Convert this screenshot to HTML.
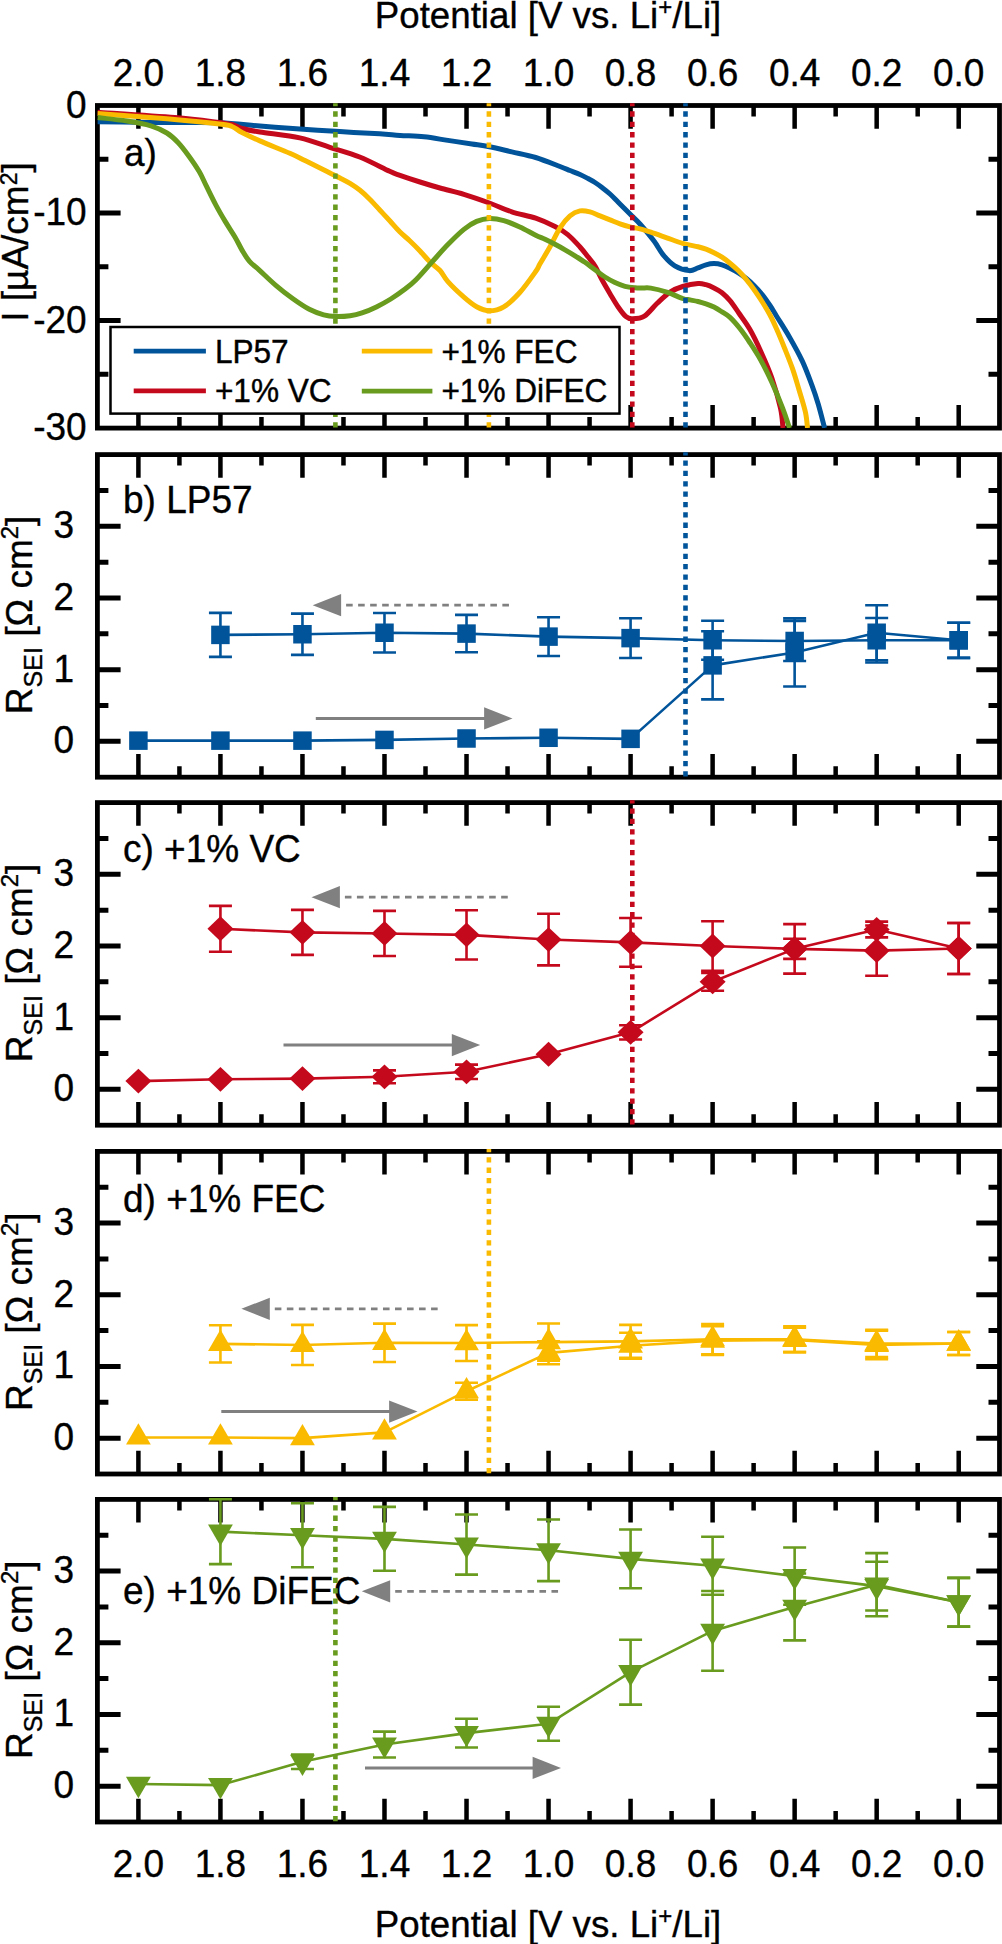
<!DOCTYPE html>
<html><head><meta charset="utf-8"><title>Potential vs RSEI</title>
<style>html,body{margin:0;padding:0;background:#fff;}svg{display:block;}text{font-family:"Liberation Sans", Arial, Helvetica, sans-serif;fill:#000;stroke:#000;stroke-width:0.35px;}</style></head><body>
<svg width="1002" height="1944" viewBox="0 0 1002 1944">
<rect width="1002" height="1944" fill="#fff"/>
<defs>
<clipPath id="cp0"><rect x="97.4" y="99.5" width="902.1" height="328.6"/></clipPath>
<clipPath id="cp1"><rect x="97.4" y="448.6" width="902.1" height="328.6"/></clipPath>
<clipPath id="cp2"><rect x="97.4" y="796.6" width="902.1" height="328.6"/></clipPath>
<clipPath id="cp3"><rect x="97.4" y="1145.4" width="902.1" height="328.6"/></clipPath>
<clipPath id="cp4"><rect x="97.4" y="1493.4" width="902.1" height="328.6"/></clipPath>
</defs>
<rect x="97.4" y="105.5" width="902.1" height="322.6" fill="none" stroke="#000" stroke-width="4.8"/>
<path d="M958.7 105.5v23.2 M958.7 428.1v-23.2 M917.69 105.5v11 M917.69 428.1v-11 M876.67 105.5v23.2 M876.67 428.1v-23.2 M835.66 105.5v11 M835.66 428.1v-11 M794.64 105.5v23.2 M794.64 428.1v-23.2 M753.62 105.5v11 M753.62 428.1v-11 M712.61 105.5v23.2 M712.61 428.1v-23.2 M671.6 105.5v11 M671.6 428.1v-11 M630.58 105.5v23.2 M630.58 428.1v-23.2 M589.57 105.5v11 M589.57 428.1v-11 M548.55 105.5v23.2 M548.55 428.1v-23.2 M507.54 105.5v11 M507.54 428.1v-11 M466.52 105.5v23.2 M466.52 428.1v-23.2 M425.51 105.5v11 M425.51 428.1v-11 M384.49 105.5v23.2 M384.49 428.1v-23.2 M343.48 105.5v11 M343.48 428.1v-11 M302.46 105.5v23.2 M302.46 428.1v-23.2 M261.45 105.5v11 M261.45 428.1v-11 M220.43 105.5v23.2 M220.43 428.1v-23.2 M179.42 105.5v11 M179.42 428.1v-11 M138.4 105.5v23.2 M138.4 428.1v-23.2" stroke="#000" stroke-width="4.5" fill="none"/><path d="M97.4 159.27h11 M999.5 159.27h-11 M97.4 213.03h23.2 M999.5 213.03h-23.2 M97.4 266.8h11 M999.5 266.8h-11 M97.4 320.57h23.2 M999.5 320.57h-23.2 M97.4 374.33h11 M999.5 374.33h-11" stroke="#000" stroke-width="5.0" fill="none"/>
<rect x="97.4" y="454.6" width="902.1" height="322.6" fill="none" stroke="#000" stroke-width="4.8"/>
<path d="M958.7 454.6v23.2 M958.7 777.2v-23.2 M917.69 454.6v11 M917.69 777.2v-11 M876.67 454.6v23.2 M876.67 777.2v-23.2 M835.66 454.6v11 M835.66 777.2v-11 M794.64 454.6v23.2 M794.64 777.2v-23.2 M753.62 454.6v11 M753.62 777.2v-11 M712.61 454.6v23.2 M712.61 777.2v-23.2 M671.6 454.6v11 M671.6 777.2v-11 M630.58 454.6v23.2 M630.58 777.2v-23.2 M589.57 454.6v11 M589.57 777.2v-11 M548.55 454.6v23.2 M548.55 777.2v-23.2 M507.54 454.6v11 M507.54 777.2v-11 M466.52 454.6v23.2 M466.52 777.2v-23.2 M425.51 454.6v11 M425.51 777.2v-11 M384.49 454.6v23.2 M384.49 777.2v-23.2 M343.48 454.6v11 M343.48 777.2v-11 M302.46 454.6v23.2 M302.46 777.2v-23.2 M261.45 454.6v11 M261.45 777.2v-11 M220.43 454.6v23.2 M220.43 777.2v-23.2 M179.42 454.6v11 M179.42 777.2v-11 M138.4 454.6v23.2 M138.4 777.2v-23.2" stroke="#000" stroke-width="4.5" fill="none"/><path d="M97.4 741.36h23.2 M999.5 741.36h-23.2 M97.4 705.51h11 M999.5 705.51h-11 M97.4 669.67h23.2 M999.5 669.67h-23.2 M97.4 633.82h11 M999.5 633.82h-11 M97.4 597.98h23.2 M999.5 597.98h-23.2 M97.4 562.13h11 M999.5 562.13h-11 M97.4 526.29h23.2 M999.5 526.29h-23.2 M97.4 490.44h11 M999.5 490.44h-11" stroke="#000" stroke-width="5.0" fill="none"/>
<rect x="97.4" y="802.6" width="902.1" height="322.6" fill="none" stroke="#000" stroke-width="4.8"/>
<path d="M958.7 802.6v23.2 M958.7 1125.2v-23.2 M917.69 802.6v11 M917.69 1125.2v-11 M876.67 802.6v23.2 M876.67 1125.2v-23.2 M835.66 802.6v11 M835.66 1125.2v-11 M794.64 802.6v23.2 M794.64 1125.2v-23.2 M753.62 802.6v11 M753.62 1125.2v-11 M712.61 802.6v23.2 M712.61 1125.2v-23.2 M671.6 802.6v11 M671.6 1125.2v-11 M630.58 802.6v23.2 M630.58 1125.2v-23.2 M589.57 802.6v11 M589.57 1125.2v-11 M548.55 802.6v23.2 M548.55 1125.2v-23.2 M507.54 802.6v11 M507.54 1125.2v-11 M466.52 802.6v23.2 M466.52 1125.2v-23.2 M425.51 802.6v11 M425.51 1125.2v-11 M384.49 802.6v23.2 M384.49 1125.2v-23.2 M343.48 802.6v11 M343.48 1125.2v-11 M302.46 802.6v23.2 M302.46 1125.2v-23.2 M261.45 802.6v11 M261.45 1125.2v-11 M220.43 802.6v23.2 M220.43 1125.2v-23.2 M179.42 802.6v11 M179.42 1125.2v-11 M138.4 802.6v23.2 M138.4 1125.2v-23.2" stroke="#000" stroke-width="4.5" fill="none"/><path d="M97.4 1089.36h23.2 M999.5 1089.36h-23.2 M97.4 1053.51h11 M999.5 1053.51h-11 M97.4 1017.67h23.2 M999.5 1017.67h-23.2 M97.4 981.82h11 M999.5 981.82h-11 M97.4 945.98h23.2 M999.5 945.98h-23.2 M97.4 910.13h11 M999.5 910.13h-11 M97.4 874.29h23.2 M999.5 874.29h-23.2 M97.4 838.44h11 M999.5 838.44h-11" stroke="#000" stroke-width="5.0" fill="none"/>
<rect x="97.4" y="1151.4" width="902.1" height="322.6" fill="none" stroke="#000" stroke-width="4.8"/>
<path d="M958.7 1151.4v23.2 M958.7 1474v-23.2 M917.69 1151.4v11 M917.69 1474v-11 M876.67 1151.4v23.2 M876.67 1474v-23.2 M835.66 1151.4v11 M835.66 1474v-11 M794.64 1151.4v23.2 M794.64 1474v-23.2 M753.62 1151.4v11 M753.62 1474v-11 M712.61 1151.4v23.2 M712.61 1474v-23.2 M671.6 1151.4v11 M671.6 1474v-11 M630.58 1151.4v23.2 M630.58 1474v-23.2 M589.57 1151.4v11 M589.57 1474v-11 M548.55 1151.4v23.2 M548.55 1474v-23.2 M507.54 1151.4v11 M507.54 1474v-11 M466.52 1151.4v23.2 M466.52 1474v-23.2 M425.51 1151.4v11 M425.51 1474v-11 M384.49 1151.4v23.2 M384.49 1474v-23.2 M343.48 1151.4v11 M343.48 1474v-11 M302.46 1151.4v23.2 M302.46 1474v-23.2 M261.45 1151.4v11 M261.45 1474v-11 M220.43 1151.4v23.2 M220.43 1474v-23.2 M179.42 1151.4v11 M179.42 1474v-11 M138.4 1151.4v23.2 M138.4 1474v-23.2" stroke="#000" stroke-width="4.5" fill="none"/><path d="M97.4 1438.16h23.2 M999.5 1438.16h-23.2 M97.4 1402.31h11 M999.5 1402.31h-11 M97.4 1366.47h23.2 M999.5 1366.47h-23.2 M97.4 1330.62h11 M999.5 1330.62h-11 M97.4 1294.78h23.2 M999.5 1294.78h-23.2 M97.4 1258.93h11 M999.5 1258.93h-11 M97.4 1223.09h23.2 M999.5 1223.09h-23.2 M97.4 1187.24h11 M999.5 1187.24h-11" stroke="#000" stroke-width="5.0" fill="none"/>
<rect x="97.4" y="1499.4" width="902.1" height="322.6" fill="none" stroke="#000" stroke-width="4.8"/>
<path d="M958.7 1499.4v23.2 M958.7 1822v-23.2 M917.69 1499.4v11 M917.69 1822v-11 M876.67 1499.4v23.2 M876.67 1822v-23.2 M835.66 1499.4v11 M835.66 1822v-11 M794.64 1499.4v23.2 M794.64 1822v-23.2 M753.62 1499.4v11 M753.62 1822v-11 M712.61 1499.4v23.2 M712.61 1822v-23.2 M671.6 1499.4v11 M671.6 1822v-11 M630.58 1499.4v23.2 M630.58 1822v-23.2 M589.57 1499.4v11 M589.57 1822v-11 M548.55 1499.4v23.2 M548.55 1822v-23.2 M507.54 1499.4v11 M507.54 1822v-11 M466.52 1499.4v23.2 M466.52 1822v-23.2 M425.51 1499.4v11 M425.51 1822v-11 M384.49 1499.4v23.2 M384.49 1822v-23.2 M343.48 1499.4v11 M343.48 1822v-11 M302.46 1499.4v23.2 M302.46 1822v-23.2 M261.45 1499.4v11 M261.45 1822v-11 M220.43 1499.4v23.2 M220.43 1822v-23.2 M179.42 1499.4v11 M179.42 1822v-11 M138.4 1499.4v23.2 M138.4 1822v-23.2" stroke="#000" stroke-width="4.5" fill="none"/><path d="M97.4 1786.16h23.2 M999.5 1786.16h-23.2 M97.4 1750.31h11 M999.5 1750.31h-11 M97.4 1714.47h23.2 M999.5 1714.47h-23.2 M97.4 1678.62h11 M999.5 1678.62h-11 M97.4 1642.78h23.2 M999.5 1642.78h-23.2 M97.4 1606.93h11 M999.5 1606.93h-11 M97.4 1571.09h23.2 M999.5 1571.09h-23.2 M97.4 1535.24h11 M999.5 1535.24h-11" stroke="#000" stroke-width="5.0" fill="none"/>
<g clip-path="url(#cp0)">
<path d="M97.4 121.8 C104.17 121.88 125.1 122.17 138 122.3 C150.9 122.43 161.13 122.52 174.8 122.6 C188.47 122.68 205.82 122.23 220 122.8 C234.18 123.37 246.6 124.97 259.9 126 C273.2 127.03 286.48 128.07 299.8 129 C313.12 129.93 326.48 130.8 339.8 131.6 C353.12 132.4 369.67 133.17 379.7 133.8 C389.73 134.43 392.62 134.9 400 135.4 C407.38 135.9 416.02 135.97 424 136.8 C431.98 137.63 439.92 139.2 447.9 140.4 C455.88 141.6 464.98 142.93 471.9 144 C478.82 145.07 482.75 145.48 489.4 146.8 C496.05 148.12 504.08 150.12 511.8 151.9 C519.52 153.68 527.67 155.07 535.7 157.5 C543.73 159.93 554.28 164.33 560 166.5 C565.72 168.67 566.67 169.17 570 170.5 C573.33 171.83 577 173.17 580 174.5 C583 175.83 585.5 177.17 588 178.5 C590.5 179.83 592.67 181 595 182.5 C597.33 184 599.5 185.58 602 187.5 C604.5 189.42 607.33 191.58 610 194 C612.67 196.42 615.33 199.33 618 202 C620.67 204.67 623.67 207.67 626 210 C628.33 212.33 629.67 213.67 632 216 C634.33 218.33 636.33 219.83 640 224 C643.67 228.17 650.07 235.77 654 241 C657.93 246.23 660.13 251.27 663.6 255.4 C667.07 259.53 670.55 263.27 674.8 265.8 C679.05 268.33 685.23 270.25 689.1 270.6 C692.97 270.95 695.18 268.87 698 267.9 C700.82 266.93 703.33 265.52 706 264.8 C708.67 264.08 711.33 263.6 714 263.6 C716.67 263.6 719.33 264.02 722 264.8 C724.67 265.58 727.33 266.98 730 268.3 C732.67 269.62 735.33 271.03 738 272.7 C740.67 274.37 743.33 276.17 746 278.3 C748.67 280.43 751.33 282.83 754 285.5 C756.67 288.17 759.33 290.97 762 294.3 C764.67 297.63 767.57 301.85 770 305.5 C772.43 309.15 773.37 310.95 776.6 316.2 C779.83 321.45 785.13 329.55 789.4 337 C793.67 344.45 798.47 352.92 802.2 360.9 C805.93 368.88 809.13 377.72 811.8 384.9 C814.47 392.08 816.07 396.82 818.2 404 C820.33 411.18 823.53 424 824.6 428" fill="none" stroke="#02549a" stroke-width="5" stroke-linejoin="round" stroke-linecap="butt"/>
<path d="M97.4 112.2 C110.3 113.1 154.45 115.87 174.8 117.6 C195.15 119.33 209.97 121.45 219.5 122.6 C229.03 123.75 228.25 123.52 232 124.5 C235.75 125.48 237.35 127.25 242 128.5 C246.65 129.75 250.27 130.43 259.9 132 C269.53 133.57 288.15 135.35 299.8 137.9 C311.45 140.45 319.82 144.12 329.8 147.3 C339.78 150.48 349.72 153 359.7 157 C369.68 161 382.98 168.25 389.7 171.3 C396.42 174.35 394.95 173.52 400 175.3 C405.05 177.08 413.33 179.88 420 182 C426.67 184.12 432.68 185.95 440 188 C447.32 190.05 455.67 191.8 463.9 194.3 C472.13 196.8 481.42 200.08 489.4 203 C497.38 205.92 504.08 209.27 511.8 211.8 C519.52 214.33 528.5 215.73 535.7 218.2 C542.9 220.67 549.65 223.87 555 226.6 C560.35 229.33 563.63 231.2 567.8 234.6 C571.97 238 576.63 243.3 580 247 C583.37 250.7 585.5 253.63 588 256.8 C590.5 259.97 592.67 262.17 595 266 C597.33 269.83 599.5 275.18 602 279.8 C604.5 284.42 607.33 289.22 610 293.7 C612.67 298.18 615.33 302.87 618 306.7 C620.67 310.53 623.67 314.68 626 316.7 C628.33 318.72 628.93 318.9 632 318.8 C635.07 318.7 640.2 318.68 644.4 316.1 C648.6 313.52 652.93 307.3 657.2 303.3 C661.47 299.3 665.75 294.9 670 292.1 C674.25 289.3 678.03 287.93 682.7 286.5 C687.37 285.07 694.12 283.8 698 283.5 C701.88 283.2 703.33 283.97 706 284.7 C708.67 285.43 711.33 286.57 714 287.9 C716.67 289.23 719.33 290.57 722 292.7 C724.67 294.83 727.2 297.32 730 300.7 C732.8 304.08 735.5 308.23 738.8 313 C742.1 317.77 746.15 322.93 749.8 329.3 C753.45 335.67 757.05 343.15 760.7 351.2 C764.35 359.25 768.4 368.08 771.7 377.6 C775 387.12 778.62 399.9 780.5 408.3 C782.38 416.7 782.58 424.72 783 428" fill="none" stroke="#c5091d" stroke-width="5" stroke-linejoin="round" stroke-linecap="butt"/>
<path d="M97.4 113.4 C108.98 114.3 146.55 117.03 166.9 118.8 C187.25 120.57 208.65 122.72 219.5 124 C230.35 125.28 228.25 125.08 232 126.5 C235.75 127.92 237.35 130.1 242 132.5 C246.65 134.9 251.92 137.43 259.9 140.9 C267.88 144.37 282.38 150.02 289.9 153.3 C297.42 156.58 299.98 158.15 305 160.6 C310.02 163.05 315.53 165.77 320 168 C324.47 170.23 328.47 172.33 331.8 174 C335.13 175.67 336.97 176.43 340 178 C343.03 179.57 346.67 181.35 350 183.4 C353.33 185.45 356.67 187.63 360 190.3 C363.33 192.97 366.67 196.08 370 199.4 C373.33 202.72 376.67 206.6 380 210.2 C383.33 213.8 386.67 217.37 390 221 C393.33 224.63 396.67 228.67 400 232 C403.33 235.33 406.67 237.83 410 241 C413.33 244.17 416.67 247.5 420 251 C423.33 254.5 426.67 258.75 430 262 C433.33 265.25 437.02 267.22 440 270.5 C442.98 273.78 443.92 277.25 447.9 281.7 C451.88 286.15 459.12 293.02 463.9 297.2 C468.68 301.38 472.35 304.53 476.6 306.8 C480.85 309.07 484.87 310.8 489.4 310.8 C493.93 310.8 498.73 309.85 503.8 306.8 C508.87 303.75 514.48 298.38 519.8 292.5 C525.12 286.62 532.33 276.28 535.7 271.5 C539.07 266.72 537.62 267.92 540 263.8 C542.38 259.68 546.67 252.78 550 246.8 C553.33 240.82 556.67 233.05 560 227.9 C563.33 222.75 566.67 218.73 570 215.9 C573.33 213.07 576.67 211.57 580 210.9 C583.33 210.23 586.67 211.07 590 211.9 C593.33 212.73 596.67 214.57 600 215.9 C603.33 217.23 606.67 218.57 610 219.9 C613.33 221.23 616.67 222.73 620 223.9 C623.33 225.07 626.67 226.07 630 226.9 C633.33 227.73 636.53 228.02 640 228.9 C643.47 229.78 646.33 230.72 650.8 232.2 C655.27 233.68 661.48 235.93 666.8 237.8 C672.12 239.67 677.5 241.9 682.7 243.4 C687.9 244.9 694.12 245.83 698 246.8 C701.88 247.77 703.33 248.2 706 249.2 C708.67 250.2 711.33 251.47 714 252.8 C716.67 254.13 719.33 255.47 722 257.2 C724.67 258.93 727.33 261.02 730 263.2 C732.67 265.38 735.33 267.65 738 270.3 C740.67 272.95 743.33 275.9 746 279.1 C748.67 282.3 751.33 285.77 754 289.5 C756.67 293.23 759.33 297.25 762 301.5 C764.67 305.75 767.57 310.42 770 315 C772.43 319.58 774.17 323.47 776.6 329 C779.03 334.53 781.93 341.55 784.6 348.2 C787.27 354.85 790.2 361.98 792.6 368.9 C795 375.82 796.87 382.52 799 389.7 C801.13 396.88 803.98 405.62 805.4 412 C806.82 418.38 807.15 425.33 807.5 428" fill="none" stroke="#f9ba00" stroke-width="5" stroke-linejoin="round" stroke-linecap="butt"/>
<path d="M97.4 117.5 C102.33 118.08 118.08 119.62 127 121 C135.92 122.38 144.25 123.8 150.9 125.8 C157.55 127.8 162.38 130.22 166.9 133 C171.42 135.78 174.42 138.75 178 142.5 C181.58 146.25 184.87 150.65 188.4 155.5 C191.93 160.35 196.22 166.53 199.2 171.6 C202.18 176.67 203.52 180.32 206.3 185.9 C209.08 191.48 212.7 199.1 215.9 205.1 C219.1 211.1 222.3 216.55 225.5 221.9 C228.7 227.25 232.3 232.42 235.1 237.2 C237.9 241.98 239.9 246.57 242.3 250.6 C244.7 254.63 246.72 258.2 249.5 261.4 C252.28 264.6 254.62 265.82 259 269.8 C263.38 273.78 270.2 280.52 275.8 285.3 C281.4 290.08 287.02 294.5 292.6 298.5 C298.18 302.5 304.12 306.58 309.3 309.3 C314.48 312.02 319.3 313.6 323.7 314.8 C328.1 316 331.3 316.35 335.7 316.5 C340.1 316.65 345.72 316.3 350.1 315.7 C354.48 315.1 357.62 314.37 362 312.9 C366.38 311.43 371.6 309.22 376.4 306.9 C381.2 304.58 386.02 301.97 390.8 299 C395.58 296.03 400.9 292.32 405.1 289.1 C409.3 285.88 411.53 284.2 416 279.7 C420.47 275.2 426.58 267.95 431.9 262.1 C437.22 256.25 442.57 250.05 447.9 244.6 C453.23 239.15 459.12 233.27 463.9 229.4 C468.68 225.53 472.35 223.22 476.6 221.4 C480.85 219.58 484.87 218.63 489.4 218.5 C493.93 218.37 498.73 219.18 503.8 220.6 C508.87 222.02 514.48 224.57 519.8 227 C525.12 229.43 531.5 233.15 535.7 235.2 C539.9 237.25 541.78 237.78 545 239.3 C548.22 240.82 551.67 242.55 555 244.3 C558.33 246.05 561.67 247.88 565 249.8 C568.33 251.72 571.67 253.72 575 255.8 C578.33 257.88 581.67 259.97 585 262.3 C588.33 264.63 591.67 267.35 595 269.8 C598.33 272.25 601.67 274.88 605 277 C608.33 279.12 611.67 280.95 615 282.5 C618.33 284.05 621.67 285.42 625 286.3 C628.33 287.18 632.17 287.52 635 287.8 C637.83 288.08 639.37 287.95 642 288 C644.63 288.05 646.67 287.42 650.8 288.1 C654.93 288.78 661.48 290.37 666.8 292.1 C672.12 293.83 678.83 297.2 682.7 298.5 C686.57 299.8 687.45 299.4 690 299.9 C692.55 300.4 695.33 300.83 698 301.5 C700.67 302.17 703.33 302.97 706 303.9 C708.67 304.83 711.33 305.77 714 307.1 C716.67 308.43 719.33 310.18 722 311.9 C724.67 313.62 727.02 314.63 730 317.4 C732.98 320.17 736.6 324.32 739.9 328.5 C743.2 332.68 746.33 337.25 749.8 342.5 C753.27 347.75 757.05 353.42 760.7 360 C764.35 366.58 768.03 373.95 771.7 382 C775.37 390.05 779.73 400.63 782.7 408.3 C785.67 415.97 788.37 424.72 789.5 428" fill="none" stroke="#689b1e" stroke-width="5" stroke-linejoin="round" stroke-linecap="butt"/>
</g>
<line x1="346.1" y1="605.2" x2="509.7" y2="605.2" stroke="#808080" stroke-width="2.8" stroke-dasharray="6.6 5.42"/>
<path d="M312.7 605.2L341.1 594.1L341.1 616.3Z" fill="#808080"/>
<line x1="315.8" y1="718.4" x2="485.1" y2="718.4" stroke="#808080" stroke-width="3"/>
<path d="M512.5 718.4L484.1 707.3L484.1 729.5Z" fill="#808080"/>
<line x1="344.9" y1="897.2" x2="508.7" y2="897.2" stroke="#808080" stroke-width="2.8" stroke-dasharray="6.6 5.42"/>
<path d="M311.5 897.2L339.9 886.1L339.9 908.3Z" fill="#808080"/>
<line x1="283.5" y1="1045.1" x2="452.8" y2="1045.1" stroke="#808080" stroke-width="3"/>
<path d="M480.2 1045.1L451.8 1034L451.8 1056.2Z" fill="#808080"/>
<line x1="274.8" y1="1308.8" x2="438.4" y2="1308.8" stroke="#808080" stroke-width="2.8" stroke-dasharray="6.6 5.42"/>
<path d="M241.4 1308.8L269.8 1297.7L269.8 1319.9Z" fill="#808080"/>
<line x1="221.3" y1="1411.6" x2="390.1" y2="1411.6" stroke="#808080" stroke-width="3"/>
<path d="M417.5 1411.6L389.1 1400.5L389.1 1422.7Z" fill="#808080"/>
<line x1="395.2" y1="1591.3" x2="558.8" y2="1591.3" stroke="#808080" stroke-width="2.8" stroke-dasharray="6.6 5.42"/>
<path d="M361.8 1591.3L390.2 1580.2L390.2 1602.4Z" fill="#808080"/>
<line x1="365" y1="1767.9" x2="533.6" y2="1767.9" stroke="#808080" stroke-width="3"/>
<path d="M561 1767.9L532.6 1756.8L532.6 1779Z" fill="#808080"/>
<polyline points="220.43,634.9 302.46,634.25 384.49,632.75 466.52,633.61 548.55,636.62 630.58,638.12 712.61,640.27 794.64,640.99 876.67,640.27 958.7,640.27" fill="none" stroke="#02549a" stroke-width="2.6" stroke-linejoin="round"/>
<path d="M220.43 612.89V656.91 M208.93 612.89H231.93 M208.93 656.91H231.93 M302.46 613.61V654.9 M290.96 613.61H313.96 M290.96 654.9H313.96 M384.49 613.03V652.46 M372.99 613.03H395.99 M372.99 652.46H395.99 M466.52 614.9V652.32 M455.02 614.9H478.02 M455.02 652.32H478.02 M548.55 617.19V656.05 M537.05 617.19H560.05 M537.05 656.05H560.05 M630.58 618.27V657.98 M619.08 618.27H642.08 M619.08 657.98H642.08 M712.61 620.77V659.77 M701.11 620.77H724.11 M701.11 659.77H724.11 M794.64 620.92V661.06 M783.14 620.92H806.14 M783.14 661.06H806.14 M876.67 618.05V662.5 M865.17 618.05H888.17 M865.17 662.5H888.17 M958.7 622.71V657.84 M947.2 622.71H970.2 M947.2 657.84H970.2" fill="none" stroke="#02549a" stroke-width="2.6"/>
<polyline points="138.4,740.64 220.43,740.64 302.46,740.64 384.49,739.92 466.52,738.49 548.55,737.77 630.58,738.85 712.61,665.37 794.64,652.46 876.67,632.75 958.7,640.27" fill="none" stroke="#02549a" stroke-width="2.6" stroke-linejoin="round"/>
<path d="M712.61 631.31V699.42 M701.11 631.31H724.11 M701.11 699.42H724.11 M794.64 618.41V686.51 M783.14 618.41H806.14 M783.14 686.51H806.14 M876.67 605.22V660.28 M865.17 605.22H888.17 M865.17 660.28H888.17 M958.7 622.71V657.84 M947.2 622.71H970.2 M947.2 657.84H970.2" fill="none" stroke="#02549a" stroke-width="2.6"/>
<rect x="211.18" y="625.65" width="18.5" height="18.5" fill="#02549a"/>
<rect x="293.21" y="625" width="18.5" height="18.5" fill="#02549a"/>
<rect x="375.24" y="623.5" width="18.5" height="18.5" fill="#02549a"/>
<rect x="457.27" y="624.36" width="18.5" height="18.5" fill="#02549a"/>
<rect x="539.3" y="627.37" width="18.5" height="18.5" fill="#02549a"/>
<rect x="621.33" y="628.87" width="18.5" height="18.5" fill="#02549a"/>
<rect x="703.36" y="631.02" width="18.5" height="18.5" fill="#02549a"/>
<rect x="785.39" y="631.74" width="18.5" height="18.5" fill="#02549a"/>
<rect x="867.42" y="631.02" width="18.5" height="18.5" fill="#02549a"/>
<rect x="949.45" y="631.02" width="18.5" height="18.5" fill="#02549a"/>
<rect x="129.15" y="731.39" width="18.5" height="18.5" fill="#02549a"/>
<rect x="211.18" y="731.39" width="18.5" height="18.5" fill="#02549a"/>
<rect x="293.21" y="731.39" width="18.5" height="18.5" fill="#02549a"/>
<rect x="375.24" y="730.67" width="18.5" height="18.5" fill="#02549a"/>
<rect x="457.27" y="729.24" width="18.5" height="18.5" fill="#02549a"/>
<rect x="539.3" y="728.52" width="18.5" height="18.5" fill="#02549a"/>
<rect x="621.33" y="729.6" width="18.5" height="18.5" fill="#02549a"/>
<rect x="703.36" y="656.12" width="18.5" height="18.5" fill="#02549a"/>
<rect x="785.39" y="643.21" width="18.5" height="18.5" fill="#02549a"/>
<rect x="867.42" y="623.5" width="18.5" height="18.5" fill="#02549a"/>
<rect x="949.45" y="631.02" width="18.5" height="18.5" fill="#02549a"/>
<polyline points="220.43,928.77 302.46,932.36 384.49,933.43 466.52,934.87 548.55,939.53 630.58,942.39 712.61,945.98 794.64,948.85 876.67,950.64 958.7,948.49" fill="none" stroke="#c5091d" stroke-width="2.6" stroke-linejoin="round"/>
<path d="M220.43 905.83V951.71 M208.93 905.83H231.93 M208.93 951.71H231.93 M302.46 909.85V954.87 M290.96 909.85H313.96 M290.96 954.87H313.96 M384.49 910.85V956.01 M372.99 910.85H395.99 M372.99 956.01H395.99 M466.52 910.28V959.46 M455.02 910.28H478.02 M455.02 959.46H478.02 M548.55 913.72V965.33 M537.05 913.72H560.05 M537.05 965.33H560.05 M630.58 918.02V966.77 M619.08 918.02H642.08 M619.08 966.77H642.08 M712.61 921.25V970.71 M701.11 921.25H724.11 M701.11 970.71H724.11 M794.64 924.11V973.58 M783.14 924.11H806.14 M783.14 973.58H806.14 M876.67 925.55V975.73 M865.17 925.55H888.17 M865.17 975.73H888.17 M958.7 923.04V973.94 M947.2 923.04H970.2 M947.2 973.94H970.2" fill="none" stroke="#c5091d" stroke-width="2.6"/>
<polyline points="138.4,1081.11 220.43,1079.32 302.46,1078.6 384.49,1076.81 466.52,1071.79 548.55,1054.23 630.58,1032.36 712.61,981.82 794.64,948.85 876.67,929.49 958.7,948.49" fill="none" stroke="#c5091d" stroke-width="2.6" stroke-linejoin="round"/>
<path d="M384.49 1070.36V1083.26 M372.99 1070.36H395.99 M372.99 1083.26H395.99 M466.52 1064.62V1078.96 M455.02 1064.62H478.02 M455.02 1078.96H478.02 M630.58 1025.19V1039.53 M619.08 1025.19H642.08 M619.08 1039.53H642.08 M712.61 972.86V990.78 M701.11 972.86H724.11 M701.11 990.78H724.11 M794.64 938.81V958.88 M783.14 938.81H806.14 M783.14 958.88H806.14 M876.67 921.6V937.38 M865.17 921.6H888.17 M865.17 937.38H888.17 M958.7 923.04V973.94 M947.2 923.04H970.2 M947.2 973.94H970.2" fill="none" stroke="#c5091d" stroke-width="2.6"/>
<path d="M207.43 928.77L220.43 916.37L233.43 928.77L220.43 941.17Z" fill="#c5091d"/>
<path d="M289.46 932.36L302.46 919.96L315.46 932.36L302.46 944.76Z" fill="#c5091d"/>
<path d="M371.49 933.43L384.49 921.03L397.49 933.43L384.49 945.83Z" fill="#c5091d"/>
<path d="M453.52 934.87L466.52 922.47L479.52 934.87L466.52 947.27Z" fill="#c5091d"/>
<path d="M535.55 939.53L548.55 927.13L561.55 939.53L548.55 951.93Z" fill="#c5091d"/>
<path d="M617.58 942.39L630.58 929.99L643.58 942.39L630.58 954.79Z" fill="#c5091d"/>
<path d="M699.61 945.98L712.61 933.58L725.61 945.98L712.61 958.38Z" fill="#c5091d"/>
<path d="M781.64 948.85L794.64 936.45L807.64 948.85L794.64 961.25Z" fill="#c5091d"/>
<path d="M863.67 950.64L876.67 938.24L889.67 950.64L876.67 963.04Z" fill="#c5091d"/>
<path d="M945.7 948.49L958.7 936.09L971.7 948.49L958.7 960.89Z" fill="#c5091d"/>
<path d="M125.4 1081.11L138.4 1068.71L151.4 1081.11L138.4 1093.51Z" fill="#c5091d"/>
<path d="M207.43 1079.32L220.43 1066.92L233.43 1079.32L220.43 1091.72Z" fill="#c5091d"/>
<path d="M289.46 1078.6L302.46 1066.2L315.46 1078.6L302.46 1091Z" fill="#c5091d"/>
<path d="M371.49 1076.81L384.49 1064.41L397.49 1076.81L384.49 1089.21Z" fill="#c5091d"/>
<path d="M453.52 1071.79L466.52 1059.39L479.52 1071.79L466.52 1084.19Z" fill="#c5091d"/>
<path d="M535.55 1054.23L548.55 1041.83L561.55 1054.23L548.55 1066.63Z" fill="#c5091d"/>
<path d="M617.58 1032.36L630.58 1019.96L643.58 1032.36L630.58 1044.76Z" fill="#c5091d"/>
<path d="M699.61 981.82L712.61 969.42L725.61 981.82L712.61 994.22Z" fill="#c5091d"/>
<path d="M781.64 948.85L794.64 936.45L807.64 948.85L794.64 961.25Z" fill="#c5091d"/>
<path d="M863.67 929.49L876.67 917.09L889.67 929.49L876.67 941.89Z" fill="#c5091d"/>
<path d="M945.7 948.49L958.7 936.09L971.7 948.49L958.7 960.89Z" fill="#c5091d"/>
<polyline points="220.43,1343.88 302.46,1344.96 384.49,1342.81 466.52,1343.02 548.55,1342.09 630.58,1341.38 712.61,1339.22 794.64,1339.22 876.67,1343.53 958.7,1343.53" fill="none" stroke="#f9ba00" stroke-width="2.6" stroke-linejoin="round"/>
<path d="M220.43 1325.25V1362.52 M208.93 1325.25H231.93 M208.93 1362.52H231.93 M302.46 1324.89V1365.03 M290.96 1324.89H313.96 M290.96 1365.03H313.96 M384.49 1323.6V1362.02 M372.99 1323.6H395.99 M372.99 1362.02H395.99 M466.52 1325.1V1360.95 M455.02 1325.1H478.02 M455.02 1360.95H478.02 M548.55 1323.45V1360.73 M537.05 1323.45H560.05 M537.05 1360.73H560.05 M630.58 1324.89V1357.86 M619.08 1324.89H642.08 M619.08 1357.86H642.08 M712.61 1324.17V1354.28 M701.11 1324.17H724.11 M701.11 1354.28H724.11 M794.64 1326.32V1352.13 M783.14 1326.32H806.14 M783.14 1352.13H806.14 M876.67 1329.91V1357.15 M865.17 1329.91H888.17 M865.17 1357.15H888.17 M958.7 1332.06V1355 M947.2 1332.06H970.2 M947.2 1355H970.2" fill="none" stroke="#f9ba00" stroke-width="2.6"/>
<polyline points="138.4,1437.44 220.43,1437.44 302.46,1438.16 384.49,1432.42 466.52,1391.2 548.55,1352.85 630.58,1345.68 712.61,1340.66 794.64,1339.94 876.67,1344.96 958.7,1343.53" fill="none" stroke="#f9ba00" stroke-width="2.6" stroke-linejoin="round"/>
<path d="M466.52 1382.81V1399.59 M455.02 1382.81H478.02 M455.02 1399.59H478.02 M548.55 1341.38V1364.32 M537.05 1341.38H560.05 M537.05 1364.32H560.05 M630.58 1332.77V1358.58 M619.08 1332.77H642.08 M619.08 1358.58H642.08 M712.61 1326.32V1355 M701.11 1326.32H724.11 M701.11 1355H724.11 M794.64 1327.75V1352.13 M783.14 1327.75H806.14 M783.14 1352.13H806.14 M876.67 1330.62V1359.3 M865.17 1330.62H888.17 M865.17 1359.3H888.17 M958.7 1332.06V1355 M947.2 1332.06H970.2 M947.2 1355H970.2" fill="none" stroke="#f9ba00" stroke-width="2.6"/>
<path d="M220.43 1329.62L232.83 1351.02L208.03 1351.02Z" fill="#f9ba00"/>
<path d="M302.46 1330.69L314.86 1352.09L290.06 1352.09Z" fill="#f9ba00"/>
<path d="M384.49 1328.54L396.89 1349.94L372.09 1349.94Z" fill="#f9ba00"/>
<path d="M466.52 1328.76L478.92 1350.16L454.12 1350.16Z" fill="#f9ba00"/>
<path d="M548.55 1327.83L560.95 1349.23L536.15 1349.23Z" fill="#f9ba00"/>
<path d="M630.58 1327.11L642.98 1348.51L618.18 1348.51Z" fill="#f9ba00"/>
<path d="M712.61 1324.96L725.01 1346.36L700.21 1346.36Z" fill="#f9ba00"/>
<path d="M794.64 1324.96L807.04 1346.36L782.24 1346.36Z" fill="#f9ba00"/>
<path d="M876.67 1329.26L889.07 1350.66L864.27 1350.66Z" fill="#f9ba00"/>
<path d="M958.7 1329.26L971.1 1350.66L946.3 1350.66Z" fill="#f9ba00"/>
<path d="M138.4 1423.17L150.8 1444.57L126 1444.57Z" fill="#f9ba00"/>
<path d="M220.43 1423.17L232.83 1444.57L208.03 1444.57Z" fill="#f9ba00"/>
<path d="M302.46 1423.89L314.86 1445.29L290.06 1445.29Z" fill="#f9ba00"/>
<path d="M384.49 1418.15L396.89 1439.55L372.09 1439.55Z" fill="#f9ba00"/>
<path d="M466.52 1376.93L478.92 1398.33L454.12 1398.33Z" fill="#f9ba00"/>
<path d="M548.55 1338.58L560.95 1359.98L536.15 1359.98Z" fill="#f9ba00"/>
<path d="M630.58 1331.41L642.98 1352.81L618.18 1352.81Z" fill="#f9ba00"/>
<path d="M712.61 1326.39L725.01 1347.79L700.21 1347.79Z" fill="#f9ba00"/>
<path d="M794.64 1325.68L807.04 1347.08L782.24 1347.08Z" fill="#f9ba00"/>
<path d="M876.67 1330.69L889.07 1352.09L864.27 1352.09Z" fill="#f9ba00"/>
<path d="M958.7 1329.26L971.1 1350.66L946.3 1350.66Z" fill="#f9ba00"/>
<polyline points="220.43,1531.66 302.46,1535.24 384.49,1538.83 466.52,1544.56 548.55,1550.3 630.58,1558.9 712.61,1565.71 794.64,1576.11 876.67,1586.14 958.7,1602.27" fill="none" stroke="#689b1e" stroke-width="2.6" stroke-linejoin="round"/>
<path d="M220.43 1499.18V1564.14 M208.93 1499.18H231.93 M208.93 1564.14H231.93 M302.46 1503.27V1567.22 M290.96 1503.27H313.96 M290.96 1567.22H313.96 M384.49 1506.86V1570.8 M372.99 1506.86H395.99 M372.99 1570.8H395.99 M466.52 1514.45V1574.67 M455.02 1514.45H478.02 M455.02 1574.67H478.02 M548.55 1519.47V1581.13 M537.05 1519.47H560.05 M537.05 1581.13H560.05 M630.58 1529.51V1588.29 M619.08 1529.51H642.08 M619.08 1588.29H642.08 M712.61 1536.68V1594.75 M701.11 1536.68H724.11 M701.11 1594.75H724.11 M794.64 1547.43V1604.78 M783.14 1547.43H806.14 M783.14 1604.78H806.14 M876.67 1561.77V1610.52 M865.17 1561.77H888.17 M865.17 1610.52H888.17 M958.7 1577.9V1626.65 M947.2 1577.9H970.2 M947.2 1626.65H970.2" fill="none" stroke="#689b1e" stroke-width="2.6"/>
<polyline points="138.4,1784 220.43,1785.08 302.46,1761.78 384.49,1744.58 466.52,1733.11 548.55,1723.79 630.58,1672.17 712.61,1630.88 794.64,1606.93 876.67,1584.71 958.7,1602.27" fill="none" stroke="#689b1e" stroke-width="2.6" stroke-linejoin="round"/>
<path d="M302.46 1754.61V1768.95 M290.96 1754.61H313.96 M290.96 1768.95H313.96 M384.49 1731.67V1757.48 M372.99 1731.67H395.99 M372.99 1757.48H395.99 M466.52 1718.77V1747.44 M455.02 1718.77H478.02 M455.02 1747.44H478.02 M548.55 1706.8V1740.78 M537.05 1706.8H560.05 M537.05 1740.78H560.05 M630.58 1639.7V1704.65 M619.08 1639.7H642.08 M619.08 1704.65H642.08 M712.61 1590.95V1670.81 M701.11 1590.95H724.11 M701.11 1670.81H724.11 M794.64 1573.53V1640.34 M783.14 1573.53H806.14 M783.14 1640.34H806.14 M876.67 1553.17V1616.25 M865.17 1553.17H888.17 M865.17 1616.25H888.17 M958.7 1577.9V1626.65 M947.2 1577.9H970.2 M947.2 1626.65H970.2" fill="none" stroke="#689b1e" stroke-width="2.6"/>
<path d="M220.43 1545.93L232.83 1524.53L208.03 1524.53Z" fill="#689b1e"/>
<path d="M302.46 1549.51L314.86 1528.11L290.06 1528.11Z" fill="#689b1e"/>
<path d="M384.49 1553.1L396.89 1531.7L372.09 1531.7Z" fill="#689b1e"/>
<path d="M466.52 1558.83L478.92 1537.43L454.12 1537.43Z" fill="#689b1e"/>
<path d="M548.55 1564.57L560.95 1543.17L536.15 1543.17Z" fill="#689b1e"/>
<path d="M630.58 1573.17L642.98 1551.77L618.18 1551.77Z" fill="#689b1e"/>
<path d="M712.61 1579.98L725.01 1558.58L700.21 1558.58Z" fill="#689b1e"/>
<path d="M794.64 1590.37L807.04 1568.97L782.24 1568.97Z" fill="#689b1e"/>
<path d="M876.67 1600.41L889.07 1579.01L864.27 1579.01Z" fill="#689b1e"/>
<path d="M958.7 1616.54L971.1 1595.14L946.3 1595.14Z" fill="#689b1e"/>
<path d="M138.4 1798.27L150.8 1776.87L126 1776.87Z" fill="#689b1e"/>
<path d="M220.43 1799.35L232.83 1777.95L208.03 1777.95Z" fill="#689b1e"/>
<path d="M302.46 1776.05L314.86 1754.65L290.06 1754.65Z" fill="#689b1e"/>
<path d="M384.49 1758.84L396.89 1737.44L372.09 1737.44Z" fill="#689b1e"/>
<path d="M466.52 1747.37L478.92 1725.97L454.12 1725.97Z" fill="#689b1e"/>
<path d="M548.55 1738.05L560.95 1716.65L536.15 1716.65Z" fill="#689b1e"/>
<path d="M630.58 1686.44L642.98 1665.04L618.18 1665.04Z" fill="#689b1e"/>
<path d="M712.61 1645.14L725.01 1623.74L700.21 1623.74Z" fill="#689b1e"/>
<path d="M794.64 1621.2L807.04 1599.8L782.24 1599.8Z" fill="#689b1e"/>
<path d="M876.67 1598.98L889.07 1577.58L864.27 1577.58Z" fill="#689b1e"/>
<path d="M958.7 1616.54L971.1 1595.14L946.3 1595.14Z" fill="#689b1e"/>
<text transform="translate(138.4 86.1) scale(1 1.03)" font-size="37" text-anchor="middle">2.0</text>
<text transform="translate(138.4 1877.2) scale(1 1.03)" font-size="37" text-anchor="middle">2.0</text>
<text transform="translate(220.43 86.1) scale(1 1.03)" font-size="37" text-anchor="middle">1.8</text>
<text transform="translate(220.43 1877.2) scale(1 1.03)" font-size="37" text-anchor="middle">1.8</text>
<text transform="translate(302.46 86.1) scale(1 1.03)" font-size="37" text-anchor="middle">1.6</text>
<text transform="translate(302.46 1877.2) scale(1 1.03)" font-size="37" text-anchor="middle">1.6</text>
<text transform="translate(384.49 86.1) scale(1 1.03)" font-size="37" text-anchor="middle">1.4</text>
<text transform="translate(384.49 1877.2) scale(1 1.03)" font-size="37" text-anchor="middle">1.4</text>
<text transform="translate(466.52 86.1) scale(1 1.03)" font-size="37" text-anchor="middle">1.2</text>
<text transform="translate(466.52 1877.2) scale(1 1.03)" font-size="37" text-anchor="middle">1.2</text>
<text transform="translate(548.55 86.1) scale(1 1.03)" font-size="37" text-anchor="middle">1.0</text>
<text transform="translate(548.55 1877.2) scale(1 1.03)" font-size="37" text-anchor="middle">1.0</text>
<text transform="translate(630.58 86.1) scale(1 1.03)" font-size="37" text-anchor="middle">0.8</text>
<text transform="translate(630.58 1877.2) scale(1 1.03)" font-size="37" text-anchor="middle">0.8</text>
<text transform="translate(712.61 86.1) scale(1 1.03)" font-size="37" text-anchor="middle">0.6</text>
<text transform="translate(712.61 1877.2) scale(1 1.03)" font-size="37" text-anchor="middle">0.6</text>
<text transform="translate(794.64 86.1) scale(1 1.03)" font-size="37" text-anchor="middle">0.4</text>
<text transform="translate(794.64 1877.2) scale(1 1.03)" font-size="37" text-anchor="middle">0.4</text>
<text transform="translate(876.67 86.1) scale(1 1.03)" font-size="37" text-anchor="middle">0.2</text>
<text transform="translate(876.67 1877.2) scale(1 1.03)" font-size="37" text-anchor="middle">0.2</text>
<text transform="translate(958.7 86.1) scale(1 1.03)" font-size="37" text-anchor="middle">0.0</text>
<text transform="translate(958.7 1877.2) scale(1 1.03)" font-size="37" text-anchor="middle">0.0</text>
<text transform="translate(86.7 117.5) scale(1 1.03)" font-size="37" text-anchor="end">0</text>
<text transform="translate(86.7 225.03) scale(1 1.03)" font-size="37" text-anchor="end">-10</text>
<text transform="translate(86.7 332.57) scale(1 1.03)" font-size="37" text-anchor="end">-20</text>
<text transform="translate(86.7 440.1) scale(1 1.03)" font-size="37" text-anchor="end">-30</text>
<text transform="translate(74 753.26) scale(1 1.03)" font-size="37" text-anchor="end">0</text>
<text transform="translate(74 681.57) scale(1 1.03)" font-size="37" text-anchor="end">1</text>
<text transform="translate(74 609.88) scale(1 1.03)" font-size="37" text-anchor="end">2</text>
<text transform="translate(74 538.19) scale(1 1.03)" font-size="37" text-anchor="end">3</text>
<text transform="translate(74 1101.26) scale(1 1.03)" font-size="37" text-anchor="end">0</text>
<text transform="translate(74 1029.57) scale(1 1.03)" font-size="37" text-anchor="end">1</text>
<text transform="translate(74 957.88) scale(1 1.03)" font-size="37" text-anchor="end">2</text>
<text transform="translate(74 886.19) scale(1 1.03)" font-size="37" text-anchor="end">3</text>
<text transform="translate(74 1450.06) scale(1 1.03)" font-size="37" text-anchor="end">0</text>
<text transform="translate(74 1378.37) scale(1 1.03)" font-size="37" text-anchor="end">1</text>
<text transform="translate(74 1306.68) scale(1 1.03)" font-size="37" text-anchor="end">2</text>
<text transform="translate(74 1234.99) scale(1 1.03)" font-size="37" text-anchor="end">3</text>
<text transform="translate(74 1798.06) scale(1 1.03)" font-size="37" text-anchor="end">0</text>
<text transform="translate(74 1726.37) scale(1 1.03)" font-size="37" text-anchor="end">1</text>
<text transform="translate(74 1654.68) scale(1 1.03)" font-size="37" text-anchor="end">2</text>
<text transform="translate(74 1582.99) scale(1 1.03)" font-size="37" text-anchor="end">3</text>
<text transform="translate(548 28.2) scale(1 1.03)" font-size="36.7" text-anchor="middle">Potential [V vs. Li<tspan font-size="24" dy="-12.6">+</tspan><tspan dy="12.6">/Li]</tspan></text>
<text transform="translate(548 1937.4) scale(1 1.03)" font-size="36.7" text-anchor="middle">Potential [V vs. Li<tspan font-size="24" dy="-12.6">+</tspan><tspan dy="12.6">/Li]</tspan></text>
<text transform="translate(27.8 242) rotate(-90)" font-size="37" text-anchor="middle">I [µA/cm<tspan font-size="23" dy="-10.5">2</tspan><tspan dy="10.5">]</tspan></text>
<text transform="translate(32.1 614.9) rotate(-90)" font-size="37" text-anchor="middle">R<tspan font-size="25" dy="10">SEI</tspan><tspan dy="-10"> [Ω cm</tspan><tspan font-size="24" dy="-14">2</tspan><tspan dy="14">]</tspan></text>
<text transform="translate(32.1 962.9) rotate(-90)" font-size="37" text-anchor="middle">R<tspan font-size="25" dy="10">SEI</tspan><tspan dy="-10"> [Ω cm</tspan><tspan font-size="24" dy="-14">2</tspan><tspan dy="14">]</tspan></text>
<text transform="translate(32.1 1311.7) rotate(-90)" font-size="37" text-anchor="middle">R<tspan font-size="25" dy="10">SEI</tspan><tspan dy="-10"> [Ω cm</tspan><tspan font-size="24" dy="-14">2</tspan><tspan dy="14">]</tspan></text>
<text transform="translate(32.1 1659.7) rotate(-90)" font-size="37" text-anchor="middle">R<tspan font-size="25" dy="10">SEI</tspan><tspan dy="-10"> [Ω cm</tspan><tspan font-size="24" dy="-14">2</tspan><tspan dy="14">]</tspan></text>
<text transform="translate(124 166.4) scale(1 1.03)" font-size="37" text-anchor="start">a)</text>
<text transform="translate(123 512.8) scale(1 1.03)" font-size="37" text-anchor="start">b) LP57</text>
<text transform="translate(123 861.5) scale(1 1.03)" font-size="37" text-anchor="start">c) +1% VC</text>
<text transform="translate(123 1212) scale(1 1.03)" font-size="37" text-anchor="start">d) +1% FEC</text>
<text transform="translate(123 1603.9) scale(1 1.03)" font-size="37" text-anchor="start">e) +1% DiFEC</text>
<line x1="335.4" y1="103.2" x2="335.4" y2="430.1" stroke="#689b1e" stroke-width="4.6" stroke-dasharray="5.3 5.06" stroke-dashoffset="2.2"/>
<line x1="488.9" y1="103.2" x2="488.9" y2="430.1" stroke="#f9ba00" stroke-width="4.6" stroke-dasharray="5.3 5.06" stroke-dashoffset="2.2"/>
<line x1="632.3" y1="103.2" x2="632.3" y2="430.1" stroke="#c5091d" stroke-width="4.6" stroke-dasharray="5.3 5.06" stroke-dashoffset="2.2"/>
<line x1="685.5" y1="103.2" x2="685.5" y2="430.1" stroke="#02549a" stroke-width="4.6" stroke-dasharray="5.3 5.06" stroke-dashoffset="2.2"/>
<line x1="685.5" y1="452.3" x2="685.5" y2="779.2" stroke="#02549a" stroke-width="4.6" stroke-dasharray="5.3 5.06" stroke-dashoffset="2.2"/>
<line x1="632.3" y1="800.3" x2="632.3" y2="1127.2" stroke="#c5091d" stroke-width="4.6" stroke-dasharray="5.3 5.06" stroke-dashoffset="2.2"/>
<line x1="488.9" y1="1149.1" x2="488.9" y2="1476" stroke="#f9ba00" stroke-width="4.6" stroke-dasharray="5.3 5.06" stroke-dashoffset="2.2"/>
<line x1="335.4" y1="1497.1" x2="335.4" y2="1824" stroke="#689b1e" stroke-width="4.6" stroke-dasharray="5.3 5.06" stroke-dashoffset="2.2"/>
<rect x="110.5" y="327" width="509" height="86.6" fill="#fff" stroke="#000" stroke-width="2.5"/>
<path d="M133.7 351.1H205.9" stroke="#02549a" stroke-width="4.8"/>
<path d="M133.7 390.8H205.9" stroke="#c5091d" stroke-width="4.8"/>
<path d="M361.8 351.1H432.4" stroke="#f9ba00" stroke-width="4.8"/>
<path d="M361.8 391.2H432.4" stroke="#689b1e" stroke-width="4.8"/>
<text transform="translate(214.9 362.8) scale(1 1.03)" font-size="31.6" text-anchor="start" style="stroke-width:0.4px">LP57</text>
<text transform="translate(214.9 402.4) scale(1 1.03)" font-size="31.6" text-anchor="start" style="stroke-width:0.4px">+1% VC</text>
<text transform="translate(441.4 362.8) scale(1 1.03)" font-size="31.6" text-anchor="start" style="stroke-width:0.4px">+1% FEC</text>
<text transform="translate(441.4 401.8) scale(1 1.03)" font-size="31.6" text-anchor="start" style="stroke-width:0.4px">+1% DiFEC</text>
</svg></body></html>
